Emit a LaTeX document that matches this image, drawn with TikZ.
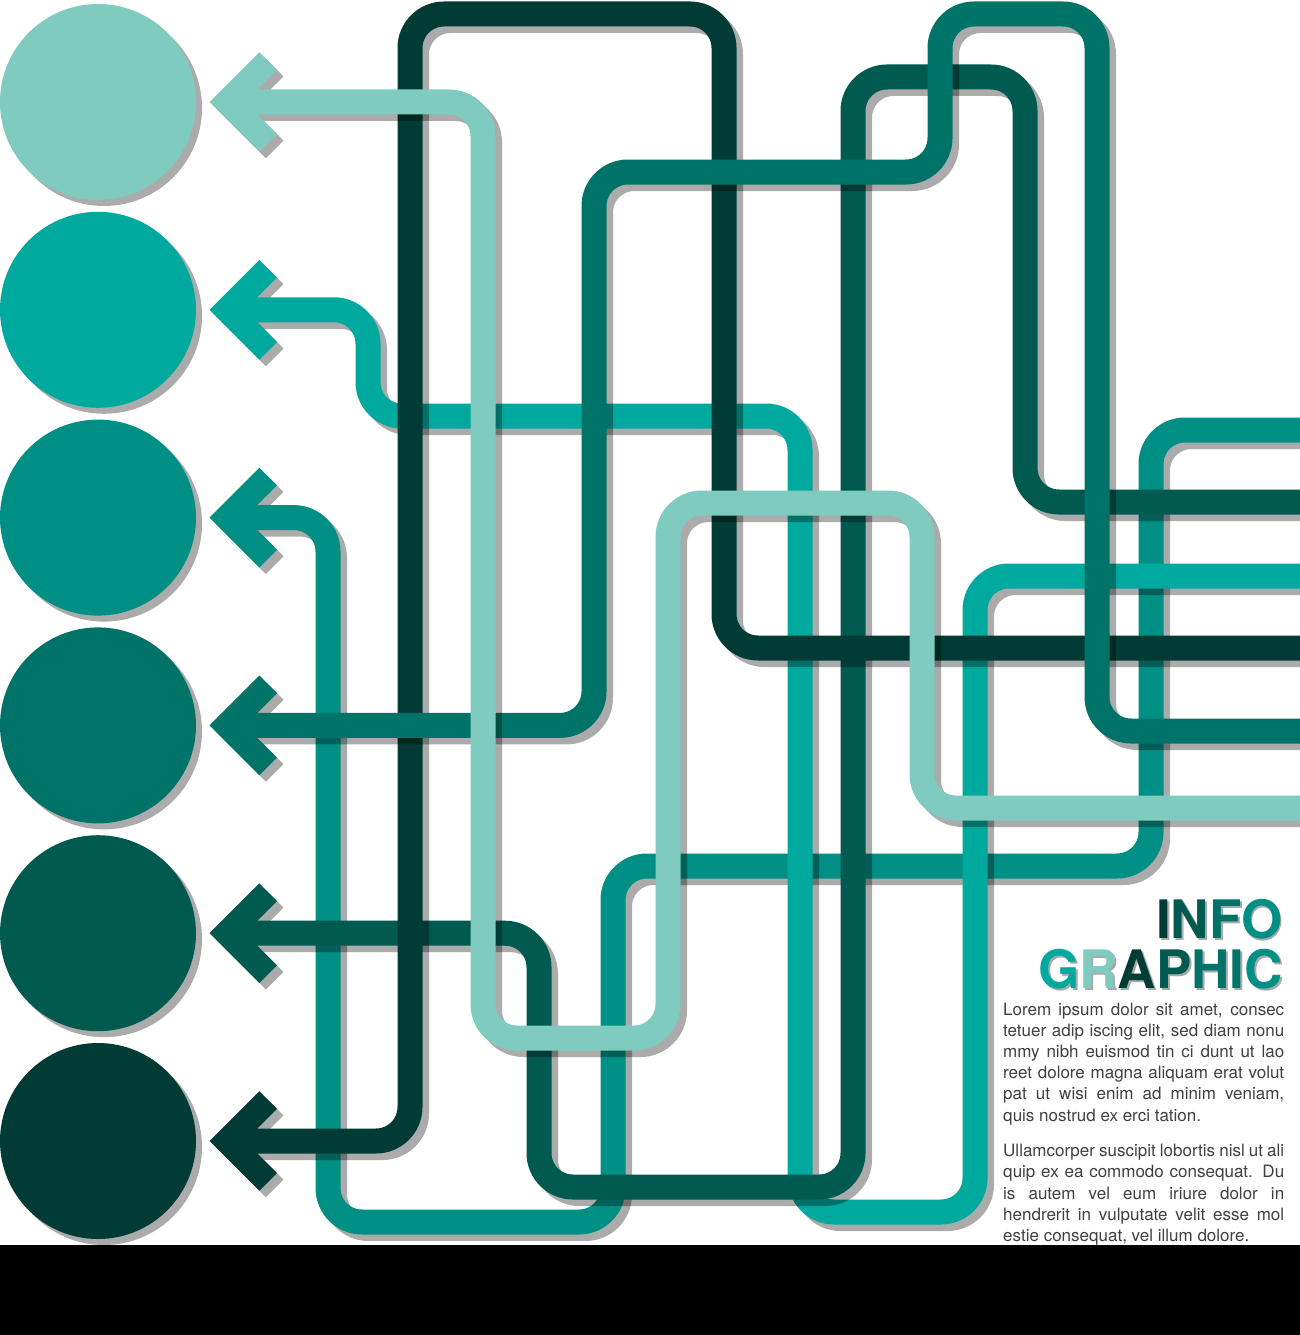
\documentclass[tikz,border=0pt]{standalone}
\usepackage{fontspec}
\setmainfont{TeX Gyre Heros}
\usepackage{tikz}
\usetikzlibrary{positioning}
\definecolor{pale}{HTML}{80CBC0}
\definecolor{aqua}{HTML}{00A99D}
\definecolor{teal}{HTML}{008F84}
\definecolor{pine}{HTML}{007368}
\definecolor{deep}{HTML}{005A50}
\definecolor{ink}{HTML}{003C35}
\definecolor{shade}{HTML}{A7A9AC}
\definecolor{copy}{HTML}{404040}
\tikzstyle{dot} = [circle, inner sep=0pt, minimum size=196pt,
    preaction={fill=black, fill opacity=0.33, transform canvas={shift={(6pt,-6pt)}}}]
\tikzstyle{pipe} = [line width=25pt, rounded corners=34pt]
\tikzstyle{pipeshadow} = [pipe, draw=black, draw opacity=0.33]
\tikzstyle{title} = [inner sep=0pt, anchor=base east,
    font=\fontsize{53}{53}\selectfont\bfseries]
\tikzstyle{body} = [inner sep=0pt, anchor=base west, text=copy,
    font=\fontsize{17}{21}\selectfont]
% a pipe with its drop shadow
\newcommand{\drawpipe}[2]{%
    \begin{scope}[transform canvas={shift={(6.5pt,-6.5pt)}}]
        \draw [pipeshadow] #2;
    \end{scope}
    \draw [pipe, draw=#1] #2;}

\begin{document}
\begin{tikzpicture}[x=1pt, y=-1pt, node distance=11.4pt]
    \useasboundingbox (0,0) rectangle (1300,1335);
    \fill[white] (0,0) rectangle (1300,1335);
    % Nodes
    \node [dot, fill=pale] (dot1) at (98,102) {};
    \node [dot, fill=aqua, below=of dot1] (dot2) {};
    \node [dot, fill=teal, below=of dot2] (dot3) {};
    \node [dot, fill=pine, below=of dot3] (dot4) {};
    \node [dot, fill=deep, below=of dot4] (dot5) {};
    \node [dot, fill=ink, below=of dot5] (dot6) {};
    \coordinate (outA) at (1300,808);
    \coordinate (outB) at (1300,576);
    \coordinate (outC) at (1300,430);
    \coordinate (outD) at (1300,731);
    \coordinate (outE) at (1300,502);
    \coordinate (outF) at (1300,648);
    % Edges
    \drawpipe{teal}{(outC) -- (1151,430) -- (1151,866) -- (613,866) -- (613,1222)
        -- (328,1222) |- ([xshift=39pt]dot3.east) [sharp corners]
        ([xshift=72pt,yshift=41pt]dot3.east) -- ([xshift=31pt]dot3.east) -- ([xshift=72pt,yshift=-41pt]dot3.east)}
    \drawpipe{aqua}{(outB) -- (975,576) -- (975,1212) -- (800,1212) -- (800,416)
        -- (368,416) |- ([xshift=39pt]dot2.east) [sharp corners]
        ([xshift=72pt,yshift=41pt]dot2.east) -- ([xshift=31pt]dot2.east) -- ([xshift=72pt,yshift=-41pt]dot2.east)}
    \drawpipe{deep}{(outE) -- (1025,502) -- (1025,77) -- (853,77) -- (853,1187)
        -- (539,1187) |- ([xshift=39pt]dot5.east) [sharp corners]
        ([xshift=72pt,yshift=41pt]dot5.east) -- ([xshift=31pt]dot5.east) -- ([xshift=72pt,yshift=-41pt]dot5.east)}
    \drawpipe{ink}{(outF) -- (724,648) -- (724,14) -- (410,14)
        |- ([xshift=39pt]dot6.east) [sharp corners]
        ([xshift=72pt,yshift=41pt]dot6.east) -- ([xshift=31pt]dot6.east) -- ([xshift=72pt,yshift=-41pt]dot6.east)}
    \drawpipe{pine}{(outD) -- (1097,731) -- (1097,14) -- (940,14) -- (940,172)
        -- (594,172) |- ([xshift=39pt]dot4.east) [sharp corners]
        ([xshift=72pt,yshift=41pt]dot4.east) -- ([xshift=31pt]dot4.east) -- ([xshift=72pt,yshift=-41pt]dot4.east)}
    \drawpipe{pale}{(outA) -- (922,808) -- (922,503) -- (668,503) -- (668,1038)
        -- (483,1038) |- ([xshift=39pt]dot1.east) [sharp corners]
        ([xshift=72pt,yshift=41pt]dot1.east) -- ([xshift=31pt]dot1.east) -- ([xshift=72pt,yshift=-41pt]dot1.east)}
    % Title
    \node [title] (info) at (1283,938)
        {\makebox[0pt][l]{\hspace{2pt}\raisebox{-2pt}{\color{shade}INFO}}%
         \color{ink}I\color{deep}N\color{pine}F\color{teal}O};
    \node [title] (graphic) at (1283,988)
        {\makebox[0pt][l]{\hspace{2pt}\raisebox{-2pt}{\color{shade}GRAPHIC}}%
         \color{aqua}G\color{pale}R\color{ink}A\color{deep}P\color{pine}H\color{pine}I\color{teal}C};
    % Text
    \foreach \txt/\how [count=\i] in {
        {Lorem ipsum dolor sit amet, consec}/s,
        {tetuer adip iscing elit, sed diam nonu}/s,
        {mmy nibh euismod tin ci dunt ut lao}/s,
        {reet dolore magna aliquam erat volut}/s,
        {pat ut wisi enim ad minim veniam,}/s,
        {quis nostrud ex erci tation.}/l,
        {Ullamcorper suscipit lobortis nisl ut ali}/s,
        {quip ex ea commodo consequat. Du}/s,
        {is autem vel eum iriure dolor in}/s,
        {hendrerit in vulputate velit esse mol}/s,
        {estie consequat, vel illum dolore.}/l} {
        \pgfmathsetmacro\yy{1015+21.2*(\i-1)+14.5*(\i>6)}
        \node [body] (text\i) at (1003,\yy) {\makebox[281pt][\how]{\txt}};
    }
    \fill [black] (0,1245) rectangle (1300,1335);
\end{tikzpicture}
\end{document}
